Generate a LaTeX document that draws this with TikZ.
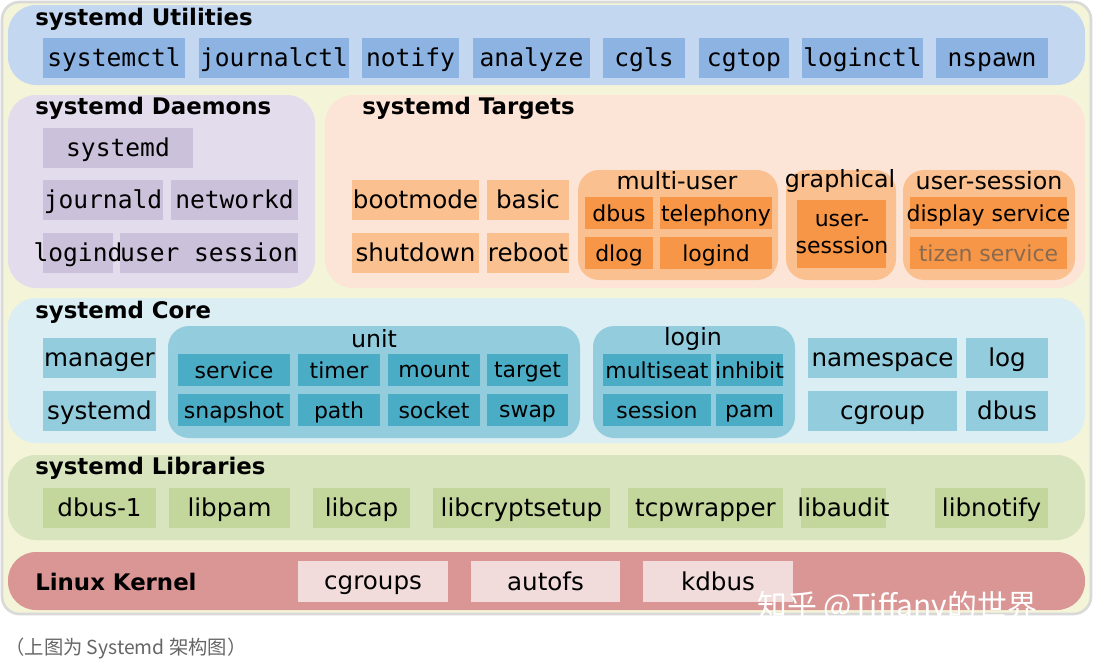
\documentclass[tikz,border=0pt]{standalone}
\usepackage{fontspec}
\setmainfont{DejaVu Sans}
\setmonofont{DejaVu Sans Mono}
\newfontfamily\cjk{Noto Sans CJK SC}
\usetikzlibrary{fit}
\definecolor{bgY}{HTML}{F4F4D8}
\definecolor{utlA}{HTML}{C3D7F1}\definecolor{utlB}{HTML}{8DB3E2}
\definecolor{dmnA}{HTML}{E3DCEC}\definecolor{dmnB}{HTML}{CCC1DA}
\definecolor{tgtA}{HTML}{FCE5D6}\definecolor{tgtB}{HTML}{FAC08F}\definecolor{tgtC}{HTML}{F79646}
\definecolor{corA}{HTML}{DAEEF3}\definecolor{corB}{HTML}{93CDDD}\definecolor{corC}{HTML}{4BACC6}
\definecolor{libA}{HTML}{D7E4BD}\definecolor{libB}{HTML}{C3D69B}
\definecolor{kerA}{HTML}{D99694}\definecolor{kerB}{HTML}{F2DCDB}
\tikzset{
 layer/.style={rounded corners=16pt,inner sep=0pt},
 grp/.style={rounded corners=12pt,inner sep=0pt},
 bx/.style={inner sep=0pt,font=\fontsize{14}{14}\selectfont},
 mbx/.style={bx,font=\ttfamily\fontsize{14}{14}\selectfont},
 sbx/.style={inner sep=0pt,font=\fontsize{12.5}{12.5}\selectfont},
 ttl/.style={anchor=west,inner sep=0pt,font=\bfseries\fontsize{13}{13}\selectfont},
 gttl/.style={inner sep=0pt,font=\fontsize{13.5}{13.5}\selectfont}
}
\newcommand\Bx[8][bx]{\node[#1,fill=#7,fit={(#3,#4) (#5,#6)}] (#2) {};\node[#1,yshift=-1.8pt] at (#2.center) {\strut #8};}
\begin{document}
\begin{tikzpicture}[x=0.02cm,y=-0.02cm]
\useasboundingbox (0,0) rectangle (1095,660);
\fill[white] (0,0) rectangle (1095,660);
\draw[draw=black!15,line width=1.5pt,fill=bgY,rounded corners=10pt] (2,2) rectangle (1091,614);
% Utilities
\node[layer,fill=utlA,fit={(8,5) (1085,85)}] (U) {};
\node[ttl] (Ut) at (35,19) {systemd Utilities};
\Bx[mbx]{u1}{43}{38}{185}{78}{utlB}{systemctl}
\Bx[mbx]{u2}{199}{38}{349}{78}{utlB}{journalctl}
\Bx[mbx]{u3}{362}{38}{459}{78}{utlB}{notify}
\Bx[mbx]{u4}{473}{38}{590}{78}{utlB}{analyze}
\Bx[mbx]{u5}{603}{38}{685}{78}{utlB}{cgls}
\Bx[mbx]{u6}{699}{38}{789}{78}{utlB}{cgtop}
\Bx[mbx]{u7}{802}{38}{923}{78}{utlB}{loginctl}
\Bx[mbx]{u8}{936}{38}{1048}{78}{utlB}{nspawn}
% Daemons
\node[layer,fill=dmnA,fit={(8,95) (315,288)}] (D) {};
\node[ttl] (Dt) at (35,108) {systemd Daemons};
\Bx[mbx]{d1}{43}{128}{193}{168}{dmnB}{systemd}
\Bx[mbx]{d2}{43}{180}{163}{220}{dmnB}{journald}
\Bx[mbx]{d3}{171}{180}{298}{220}{dmnB}{networkd}
\Bx[mbx]{d4}{43}{233}{113}{273}{dmnB}{logind}
\Bx[mbx]{d5}{120}{233}{298}{273}{dmnB}{user session}
% Targets
\node[layer,fill=tgtA,fit={(325,95) (1085,288)}] (T) {};
\node[ttl] (Tt) at (362,108) {systemd Targets};
\Bx{t1}{352}{180}{479}{220}{tgtB}{bootmode}
\Bx{t2}{487}{180}{569}{220}{tgtB}{basic}
\Bx{t3}{352}{233}{479}{273}{tgtB}{shutdown}
\Bx{t4}{487}{233}{569}{273}{tgtB}{reboot}
\node[grp,fill=tgtB,fit={(578,170) (778,280)}] (G1) {};
\node[gttl] (G1t) at (677,181) {multi-user};
\Bx[sbx]{m1}{585}{197}{653}{229}{tgtC}{dbus}
\Bx[sbx]{m2}{660}{197}{772}{229}{tgtC}{telephony}
\Bx[sbx]{m3}{585}{237}{653}{269}{tgtC}{dlog}
\Bx[sbx]{m4}{660}{237}{772}{269}{tgtC}{logind}
\node[grp,fill=tgtB,fit={(786,170) (896,280)}] (G2) {};
\node[gttl] (G2t) at (840,181) {graphical};
\node[sbx,fill=tgtC,fit={(797,200) (886,268)}] (g1) {};
\node[sbx] (g1a) at (842,220) {user-};
\node[sbx] (g1b) at (842,245) {sesssion};
\node[grp,fill=tgtB,fit={(903,170) (1075,280)}] (G3) {};
\node[gttl] (G3t) at (989,181) {user-session};
\Bx[sbx]{s1}{910}{197}{1067}{229}{tgtC}{display service}
\node[sbx,fill=tgtC,fit={(910,237) (1067,269)}] (s2) {};
\node[sbx,yshift=-1.8pt,text=black!45!tgtB] at (s2.center) {\strut tizen service};
% Core
\node[layer,fill=corA,fit={(8,298) (1085,443)}] (C) {};
\node[ttl] (Ct) at (35,312) {systemd Core};
\Bx{c1}{43}{338}{156}{378}{corB}{manager}
\Bx{c2}{43}{391}{156}{431}{corB}{systemd}
\node[grp,fill=corB,fit={(168,326) (580,438)}] (UN) {};
\node[gttl] (UNt) at (374,339) {unit};
\Bx[sbx]{n1}{178}{354}{290}{386}{corC}{service}
\Bx[sbx]{n2}{298}{354}{380}{386}{corC}{timer}
\Bx[sbx]{n3}{388}{354}{480}{386}{corC}{mount}
\Bx[sbx]{n4}{487}{354}{568}{386}{corC}{target}
\Bx[sbx]{n5}{178}{394}{290}{426}{corC}{snapshot}
\Bx[sbx]{n6}{298}{394}{380}{426}{corC}{path}
\Bx[sbx]{n7}{388}{394}{480}{426}{corC}{socket}
\Bx[sbx]{n8}{487}{394}{568}{426}{corC}{swap}
\node[grp,fill=corB,fit={(593,326) (795,438)}] (LG) {};
\node[gttl] (LGt) at (693,339) {login};
\Bx[sbx]{l1}{603}{354}{711}{386}{corC}{multiseat}
\Bx[sbx]{l2}{716}{354}{783}{386}{corC}{inhibit}
\Bx[sbx]{l3}{603}{394}{711}{426}{corC}{session}
\Bx[sbx]{l4}{716}{394}{783}{426}{corC}{pam}
\Bx{c3}{808}{338}{957}{378}{corB}{namespace}
\Bx{c4}{966}{338}{1048}{378}{corB}{log}
\Bx{c5}{808}{391}{957}{431}{corB}{cgroup}
\Bx{c6}{966}{391}{1048}{431}{corB}{dbus}
% Libraries
\node[layer,fill=libA,fit={(8,455) (1085,540)}] (L) {};
\node[ttl] (Lt) at (35,468) {systemd Libraries};
\Bx{b1}{43}{488}{156}{528}{libB}{dbus-1}
\Bx{b2}{169}{488}{290}{528}{libB}{libpam}
\Bx{b3}{313}{488}{410}{528}{libB}{libcap}
\Bx{b4}{433}{488}{610}{528}{libB}{libcryptsetup}
\Bx{b5}{628}{488}{783}{528}{libB}{tcpwrapper}
\Bx{b6}{801}{488}{886}{528}{libB}{libaudit}
\Bx{b7}{935}{488}{1048}{528}{libB}{libnotify}
% Kernel
\node[layer,fill=kerA,fit={(8,552) (1085,610)}] (K) {};
\node[ttl] (Kt) at (35,582) {Linux Kernel};
\Bx{k1}{298}{561}{448}{602}{kerB}{cgroups}
\Bx{k2}{471}{561}{620}{602}{kerB}{autofs}
\Bx{k3}{643}{561}{793}{602}{kerB}{kdbus}
% watermark and caption
\node[anchor=west,inner sep=0pt,text=white,font=\cjk\fontsize{17}{17}\selectfont] (wm) at (757,607) {知乎 @Tiffany的世界};
\node[anchor=west,inner sep=0pt,text=black!60,font=\cjk\fontsize{11}{11}\selectfont] (cap) at (5,648) {（上图为 Systemd 架构图）};
\end{tikzpicture}
\end{document}
